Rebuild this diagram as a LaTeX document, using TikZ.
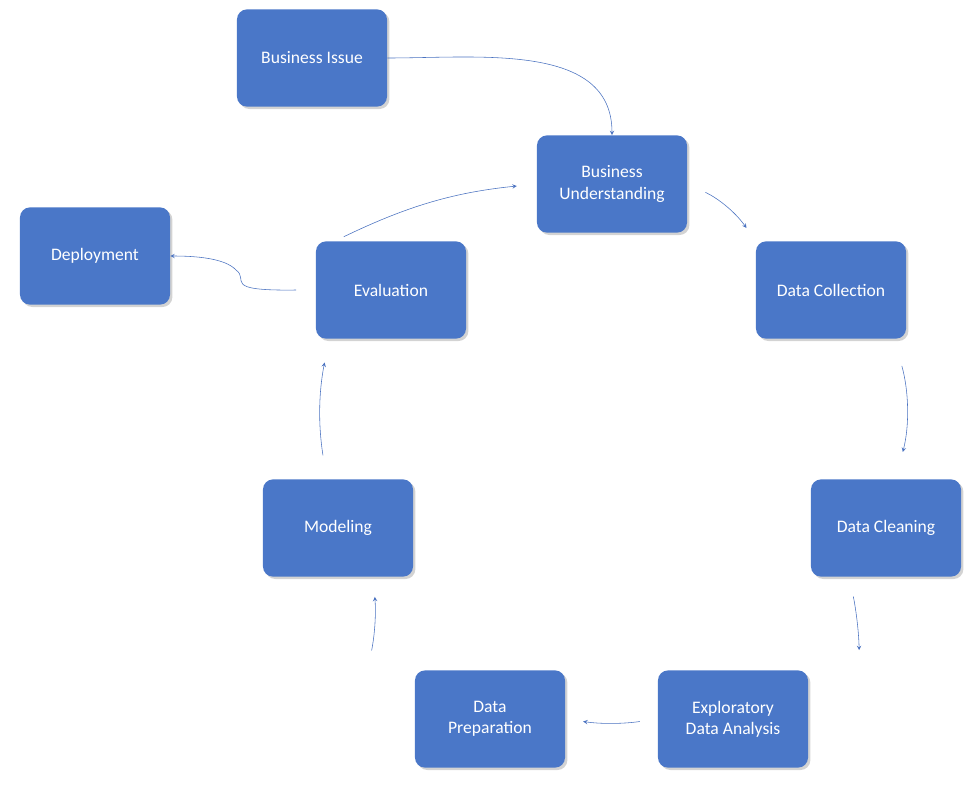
\documentclass[tikz,border=0pt]{standalone}
\usepackage{fontspec}
\setmainfont{Carlito}
\usetikzlibrary{shadows}
\definecolor{boxblue}{HTML}{4A77C8}
\definecolor{arrowblue}{HTML}{4A72C0}
\tikzset{
  stage/.style={fill=boxblue, draw=none, rounded corners=0.25cm, text=white,
    minimum width=3.75cm, minimum height=2.43cm, align=center,
    font=\fontsize{12.5}{15}\selectfont,
    drop shadow={opacity=0.35, shadow xshift=0.06cm, shadow yshift=-0.06cm}},
  flow/.style={draw=arrowblue, thin, -stealth, shorten <=0.5cm, shorten >=0.4cm}
}
\begin{document}
\begin{tikzpicture}[x=0.025cm, y=-0.025cm]
	\useasboundingbox (0,0) rectangle (980,785);

	% the cycle
	\node[stage] (issue) at (312,58) {Business Issue};
	\node[stage] (under) at (612,184) {Business\\Understanding};
	\node[stage] (collect) at (831,290) {Data Collection};
	\node[stage] (clean) at (886,528) {Data Cleaning};
	\node[stage] (eda) at (733,719) {Exploratory\\Data Analysis};
	\node[stage] (prep) at (490,719) {Data\\Preparation};
	\node[stage] (model) at (338,528) {Modeling};
	\node[stage] (eval) at (391,290) {Evaluation};
	\node[stage] (deploy) at (95,256) {Deployment};

	% arrows
	\draw[draw=arrowblue, thin, -stealth] (issue.east) to[out=0, in=90] (under.north);
	\draw[flow] (under.east) to[bend left=15] (collect.north west);
	\draw[flow, shorten <=0.7cm, shorten >=0.7cm] ([xshift=45]collect.south) to[bend left=15] ([xshift=7]clean.north);
	\draw[flow, shorten <=0.5cm, shorten >=0.5cm] ([xshift=-26]clean.south) to[bend left=5] ([xshift=90]eda.north);
	\draw[flow, shorten <=0.45cm, shorten >=0.45cm] (eda.west) to[bend left=8] (prep.east);
	\draw[flow, shorten <=0.5cm, shorten >=0.5cm] ([xshift=-87]prep.north) to[bend right=8] ([xshift=25]model.south);
	\draw[flow, shorten <=0.6cm, shorten >=0.6cm] ([xshift=-8]model.north) to[bend left=10] ([xshift=-44]eval.south);
	\draw[flow, shorten <=0.25cm, shorten >=0.5cm] ([xshift=-40]eval.north) to[bend left=10] (under.west);
	\draw[draw=arrowblue, thin, -stealth] ([xshift=-14]eval.west) .. controls (220,291) and (250,280) .. (236,270) .. controls (225,258) and (195,256) .. (deploy.east);
\end{tikzpicture}
\end{document}
